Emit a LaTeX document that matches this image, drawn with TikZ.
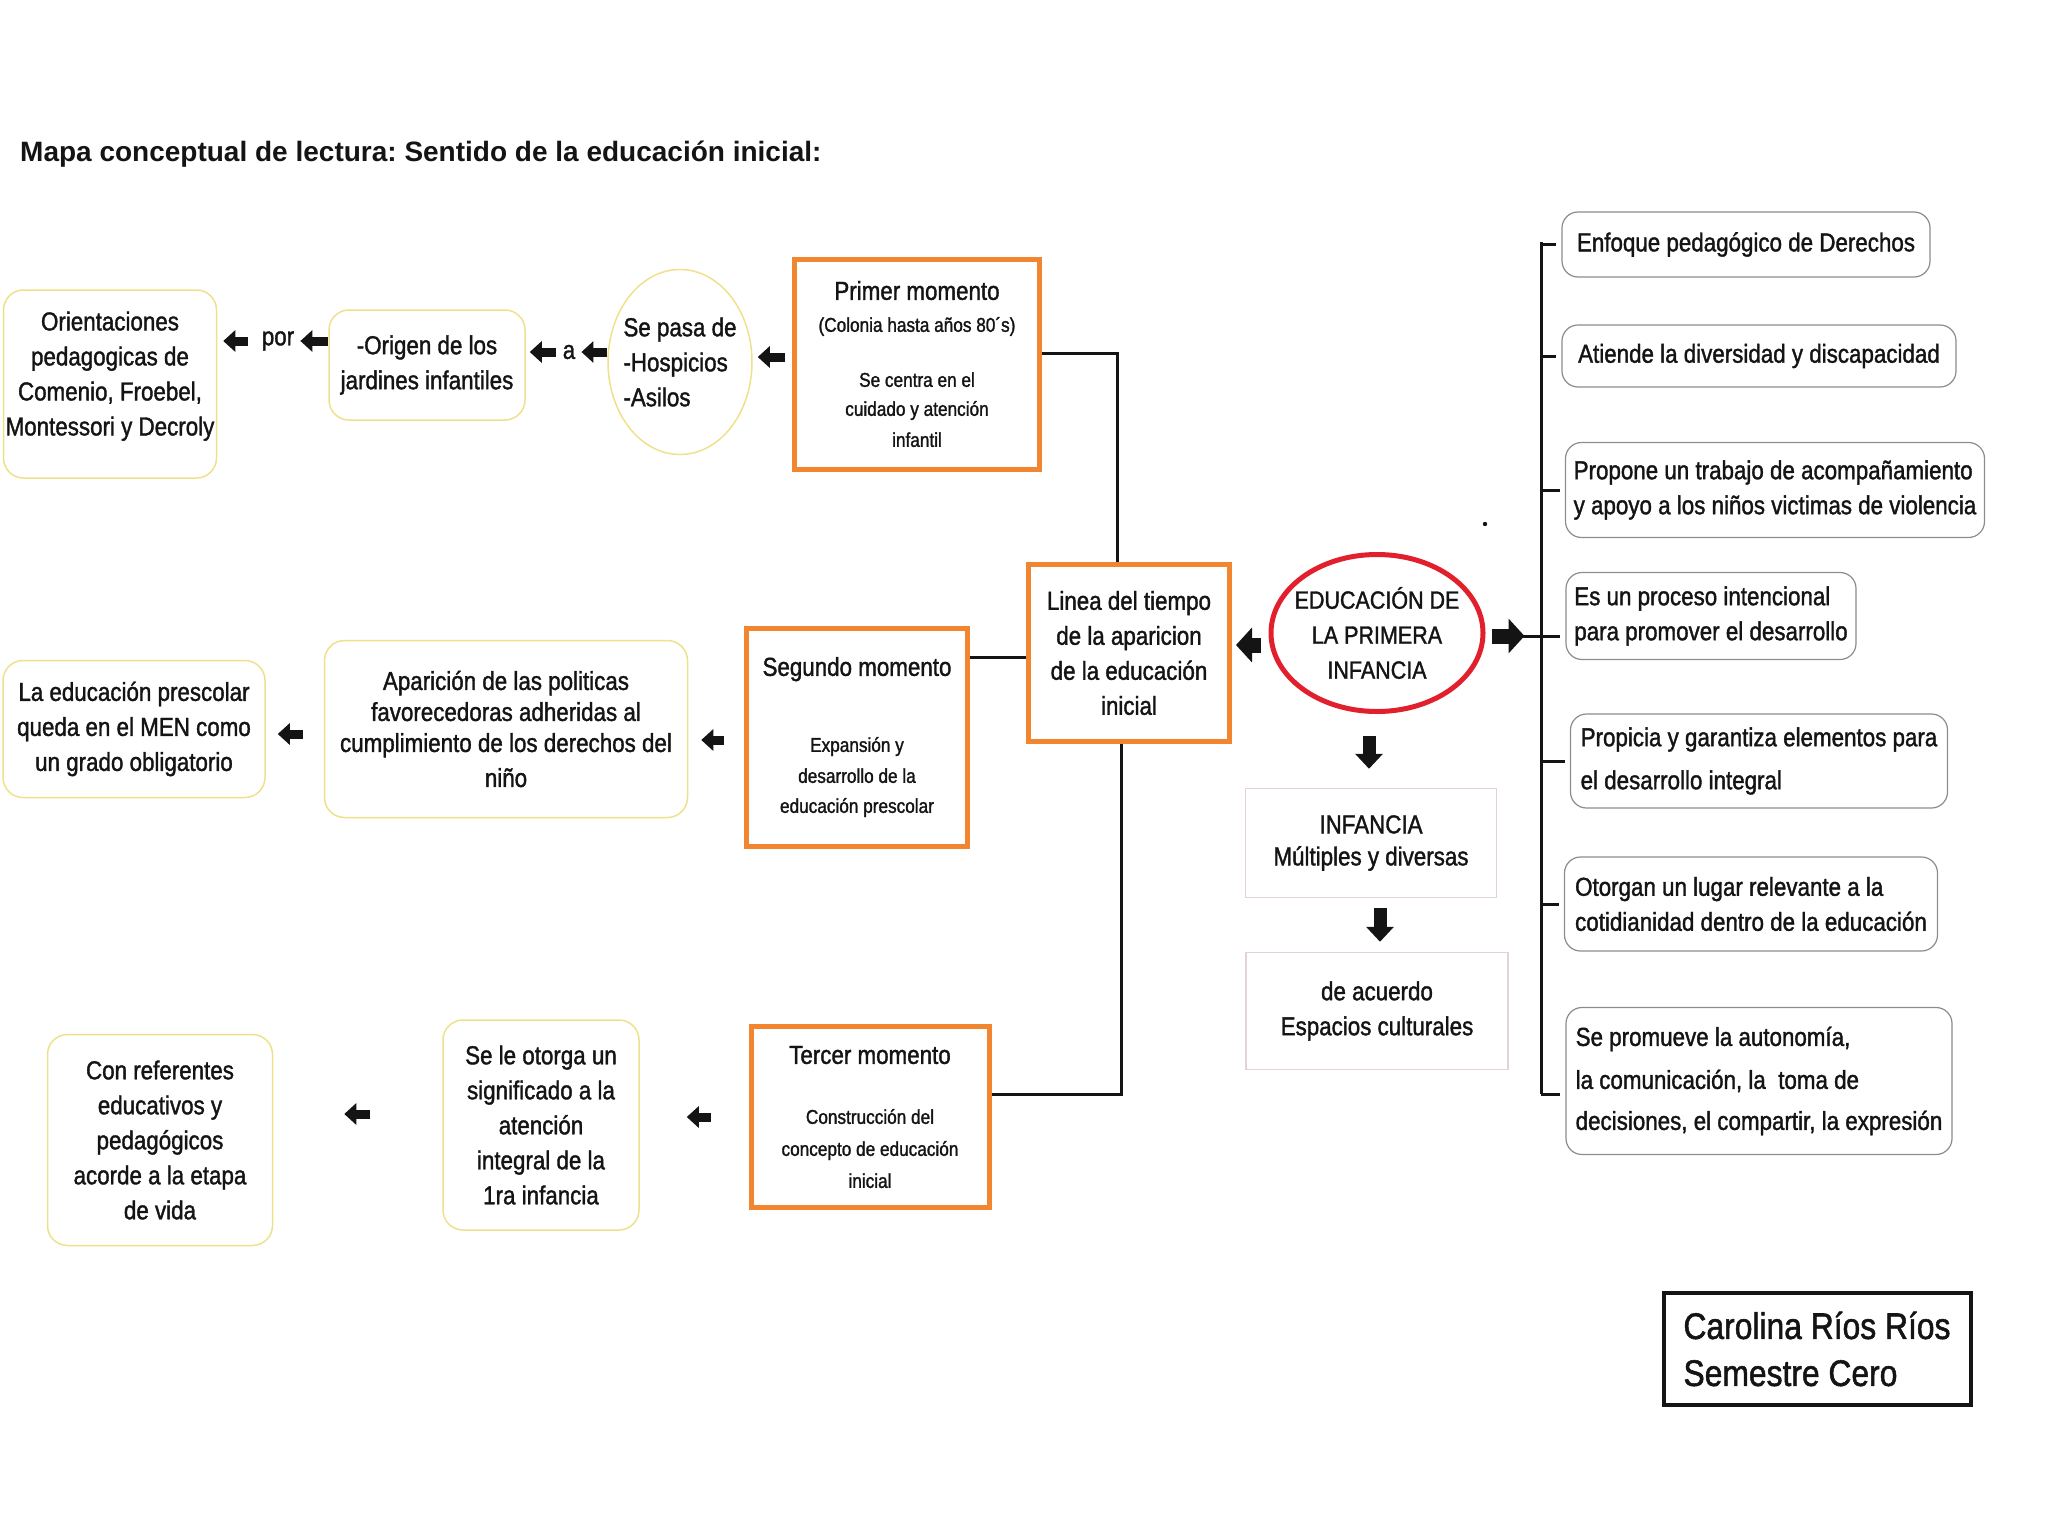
\documentclass[tikz,border=0pt]{standalone}
\usepackage{fontspec}
\setmainfont{Liberation Sans}[FakeStretch=0.86,FakeBold=1.4]
\newfontfamily\titlefont{Liberation Sans}
\usetikzlibrary{calc,arrows.meta,shapes.geometric}
\definecolor{boxorange}{RGB}{242,133,48}
\definecolor{boxyellow}{RGB}{238,225,140}
\definecolor{edured}{RGB}{226,32,45}
\definecolor{softgrey}{RGB}{140,140,140}
\definecolor{softpink}{RGB}{228,210,218}
\definecolor{ink}{RGB}{20,20,20}
\newcommand\sm{\fontsize{20}{29}\selectfont}
\frenchspacing
\tikzset{
  txt/.style={text=ink, font=\fontsize{26}{35}\selectfont, align=center, inner sep=0pt},
  ybox/.style={txt, draw=boxyellow, line width=1.5pt, rounded corners=20pt},
  obox/.style={txt, draw=boxorange, line width=5pt},
  rbox/.style={txt, draw=softgrey, line width=1.2pt, rounded corners=16pt, align=left},
  pbox/.style={txt, draw=softpink, line width=1.5pt},
  conn/.style={draw=ink, line width=3pt},
  blk/.style={draw=ink, line width=9pt, -{Triangle[width=21pt,length=12pt]}},
  blkbig/.style={draw=ink, line width=15pt, -{Triangle[width=34pt,length=16pt]}},
  blkdown/.style={draw=ink, line width=13pt, -{Triangle[width=27pt,length=15pt]}},
}

\begin{document}
\begin{tikzpicture}[x=1pt,y=-1pt]
	\useasboundingbox (0,0) rectangle (2048,1536);
	
	%%%%% TITLE %%%%%
	\node[anchor=west, text=ink, inner sep=0pt, font=\titlefont\fontsize{28}{34}\selectfont\bfseries] (title) at (20,154) {Mapa conceptual de lectura: Sentido de la educación inicial:};
	
	%%%%% LEFT SIDE %%%%%
	\node[ybox, minimum width=213pt, minimum height=188pt] (ori) at (110,384) {Orientaciones\\pedagogicas de\\Comenio, Froebel,\\Montessori y Decroly\\[-14pt]};
	\node[txt] (por) at (278,341) {por};
	\node[ybox, minimum width=196pt, minimum height=110pt] (og) at (427,365) {-Origen de los\\jardines infantiles};
	\node[txt] (a) at (569,352) {a};
	\node[txt, ellipse, draw=boxyellow, line width=1.5pt, align=left, inner xsep=-10pt, minimum width=144pt, minimum height=185pt] (pasa) at (680,362) {Se pasa de\\-Hospicios\\-Asilos};
	\node[obox, minimum width=245pt, minimum height=210pt] (pm) at (917,364) {Primer momento\\[-3pt]{\sm (Colonia hasta años 80´s)}\\[20pt]{\sm Se centra en el}\\[-6pt]{\sm cuidado y atención}\\[-4pt]{\sm infantil}};
	
	\node[ybox, minimum width=262pt, minimum height=137pt] (pre) at (134,729) {La educación prescolar\\queda en el MEN como\\un grado obligatorio};
	\node[ybox, minimum width=363pt, minimum height=177pt] (ap) at (506,729) {Aparición de las politicas\\[-4pt]favorecedoras adheridas al\\[-4pt]cumplimiento de los derechos del\\niño};
	\node[obox, minimum width=221pt, minimum height=218pt] (sg) at (857,737) {Segundo momento\\[41pt]{\sm Expansión y}\\[-4pt]{\sm desarrollo de la}\\[-5pt]{\sm educación prescolar}};
	
	\node[ybox, minimum width=225pt, minimum height=211pt] (ref) at (160,1140) {Con referentes\\educativos y\\pedagógicos\\acorde a la etapa\\de vida};
	\node[ybox, minimum width=196pt, minimum height=210pt] (ot) at (541,1125) {Se le otorga un\\significado a la\\atención\\integral de la\\1ra infancia};
	\node[obox, minimum width=238pt, minimum height=181pt] (tc) at (870,1117) {Tercer momento\\[25pt]{\sm Construcción del}\\[-3pt]{\sm concepto de educación}\\[-3pt]{\sm inicial}};
	
	\node[obox, minimum width=201pt, minimum height=177pt] (ln) at (1129,653) {Linea del tiempo\\de la aparicion\\de la educación\\inicial};
	
	%%%%% CENTRE %%%%%
	\node[txt, ellipse, draw=edured, line width=5pt, font=\fontsize{25}{35}\selectfont, inner xsep=-8pt, minimum width=212pt, minimum height=157pt] (edu) at (1377,633) {EDUCACIÓN DE\\LA PRIMERA\\INFANCIA};
	\node[pbox, minimum width=251pt, minimum height=109pt] (inf) at (1371,843) {INFANCIA\\[-3pt]Múltiples y diversas};
	\node[pbox, minimum width=262pt, minimum height=117pt] (ac) at (1377,1011) {de acuerdo\\Espacios culturales};
	\fill[ink] (1485,524) circle (2.2);
	
	%%%%% RIGHT SIDE %%%%%
	\node[rbox, minimum width=368pt, minimum height=65pt] (r1) at (1746,244.5) {Enfoque pedagógico de Derechos};
	\node[rbox, minimum width=394pt, minimum height=62pt] (r2) at (1759,356) {Atiende la diversidad y discapacidad};
	\node[rbox, minimum width=419pt, minimum height=95pt] (r3) at (1775,490) {Propone un trabajo de acompañamiento\\y apoyo a los niños victimas de violencia};
	\node[rbox, minimum width=290pt, minimum height=87pt] (r4) at (1711,616) {Es un proceso intencional\\para promover el desarrollo};
	\node[rbox, minimum width=377pt, minimum height=94pt] (r5) at (1759,761) {Propicia y garantiza elementos para\\[8pt]el desarrollo integral};
	\node[rbox, minimum width=373pt, minimum height=94pt] (r6) at (1751,904) {Otorgan un lugar relevante a la\\cotidianidad dentro de la educación};
	\node[rbox, minimum width=386pt, minimum height=147pt] (r7) at (1759,1081) {Se promueve la autonomía,\\[8pt]la comunicación, la\ \ toma de\\[6pt]decisiones, el compartir, la expresión};
	
	\node[draw=ink, line width=4pt, text=ink, align=left, inner sep=0pt, font=\fontsize{37}{47}\selectfont, minimum width=307pt, minimum height=112pt] (name) at (1817,1349) {Carolina Ríos Ríos\\Semestre Cero};
	
	%%%%% CONNECTORS %%%%%
	\draw[conn] ($(pm.east)+(0,-11)$) -| ($(ln.north)+(-12,0)$);
	\draw[conn] ($(sg.east)+(0,-80)$) -- ($(sg.east -| ln.west)+(0,-80)$);
	\draw[conn] ($(ln.south)+(-8,0)$) |- ($(tc.east)+(0,-23)$);
	
	\coordinate (sptop) at (1541,242);
	\coordinate (spbot) at (1541,1094);
	\draw[conn] (sptop) -- (spbot);
	\foreach \r in {r1,r2,r3,r5,r6}
		\draw[conn] (\r.west -| sptop) -- ($(\r.west)+(-5,0)$);
	\draw[conn] ($(edu.east)+(6,3)$) -- ($(r4.west)+(-5,20)$);
	\draw[conn] (spbot) -- ($(r7.west)+(-5,13)$);
	
	%%%%% BLOCK ARROWS %%%%%
	\draw[blk, shorten <=7pt, shorten >=5pt] ($(pm.west)+(0,-7)$) -- ($(pm.west -| pasa.east)+(0,-7)$);
	\draw[blk, shorten >=6pt] (pasa.west |- a) -- (a.east);
	\draw[blk, shorten <=7pt, shorten >=4pt] (a.west) -- (a.west -| og.east);
	\draw[blk, shorten >=6pt] (og.west |- por) -- (por.east);
	\draw[blk, shorten <=14pt, shorten >=6pt] (por.west) -- (por.west -| ori.east);
	
	\draw[blk, shorten <=20pt, shorten >=13pt] ($(sg.west)+(0,3)$) -- ($(sg.west -| ap.east)+(0,3)$);
	\draw[blk, shorten <=21pt, shorten >=12pt] ($(ap.west)+(0,5)$) -- ($(ap.west -| pre.east)+(0,5)$);
	
	\draw[blk, shorten <=38pt, shorten >=47pt] (tc.west) -- (tc.west -| ot.east);
	\draw[blk, shorten <=72pt, shorten >=71pt] ($(ot.west)+(0,-11)$) -- ($(ot.west -| ref.east)+(0,-11)$);
	
	\draw[blkbig, shorten <=8pt, shorten >=4pt] ($(edu.west)+(0,12)$) -- ($(edu.west -| ln.east)+(0,12)$);
	\draw[blkbig] ($(edu.east)+(6,3)$) -- ++(33,0);
	\draw[blkdown, shorten <=22pt, shorten >=19pt] ($(edu.south)+(-8,0)$) -- ($(edu.south |- inf.north)+(-8,0)$);
	\draw[blkdown, shorten <=10pt, shorten >=10pt] ($(inf.south -| ac.north)+(3,0)$) -- ($(ac.north)+(3,0)$);
	
\end{tikzpicture}
\end{document}
